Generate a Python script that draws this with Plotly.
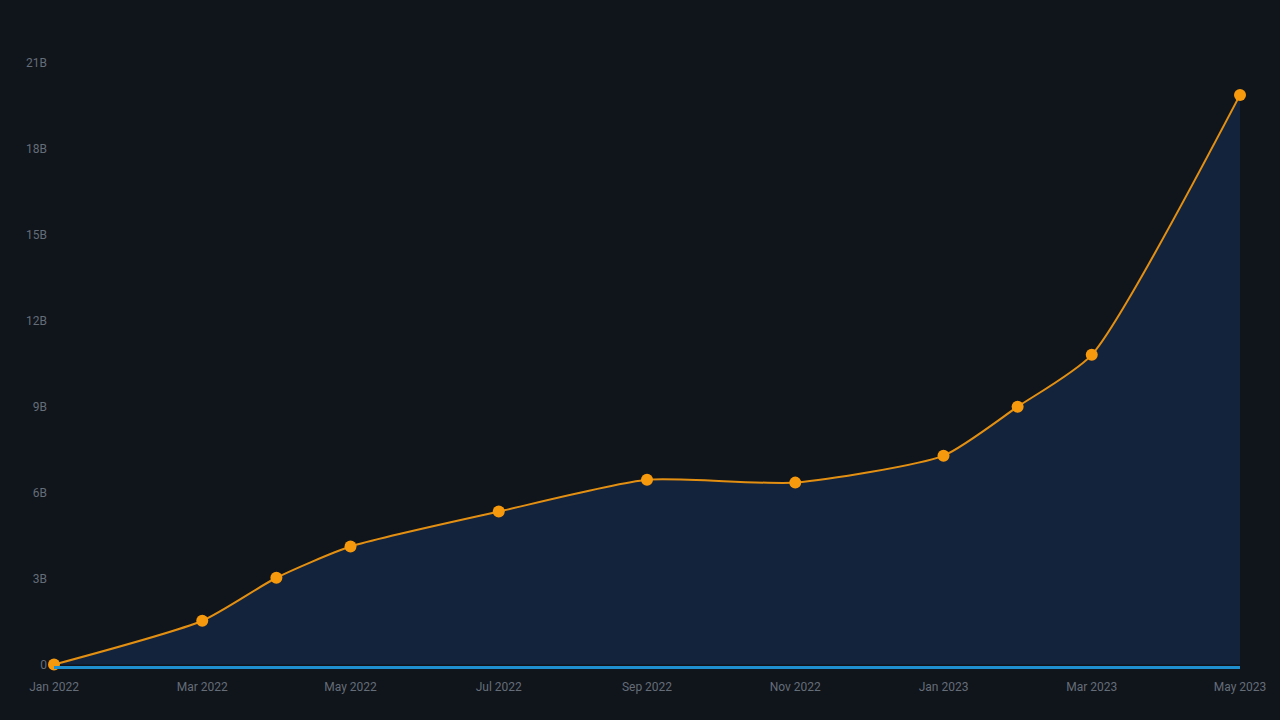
import plotly.graph_objects as go

# data
x_pos = [0, 2, 3, 4, 6, 8, 10, 12, 13, 14, 16]
values_b = [0.0, 1.53, 3.03, 4.12, 5.34, 6.45, 6.35, 7.29, 9.0, 10.81, 19.88]
x_tick_pos = [0, 2, 4, 6, 8, 10, 12, 14, 16]
x_tick_text = ["Jan 2022", "Mar 2022", "May 2022", "Jul 2022", "Sep 2022",
               "Nov 2022", "Jan 2023", "Mar 2023", "May 2023"]
y_tick_vals = [0, 3, 6, 9, 12, 15, 18, 21]
y_tick_text = ["0", "3B", "6B", "9B", "12B", "15B", "18B", "21B"]

BG = "#10141b"

fig = go.Figure()
fig.add_trace(go.Scatter(
    x=x_pos, y=values_b,
    mode="lines+markers",
    line=dict(color="#e39012", width=2, shape="spline", smoothing=0.6),
    marker=dict(color="#f7990d", size=12, line=dict(width=0)),
    fill="tozeroy",
    fillcolor="rgba(24,48,88,0.55)",
    cliponaxis=False,
    hoverinfo="skip",
))

fig.update_layout(
    width=1280, height=720,
    paper_bgcolor=BG, plot_bgcolor=BG,
    margin=dict(l=54, r=40, t=60, b=54),
    showlegend=False,
    font=dict(family="Roboto, sans-serif", color="#646d78", size=12),
    xaxis=dict(
        range=[0, 16], tickvals=x_tick_pos, ticktext=x_tick_text,
        showgrid=False, zeroline=False,
        showline=True, linecolor="#1f8fd0", linewidth=3,
        ticks="", ticklabelstandoff=8,
    ),
    yaxis=dict(
        range=[-0.05, 21.1], tickvals=y_tick_vals, ticktext=y_tick_text,
        showgrid=False, zeroline=False, showline=False,
        ticks="", ticklabelstandoff=6,
    ),
)

fig.write_html(
    "out.html",
    config={"displayModeBar": False},
    post_script="document.body.style.margin='0';document.body.style.background='%s';" % BG,
)
